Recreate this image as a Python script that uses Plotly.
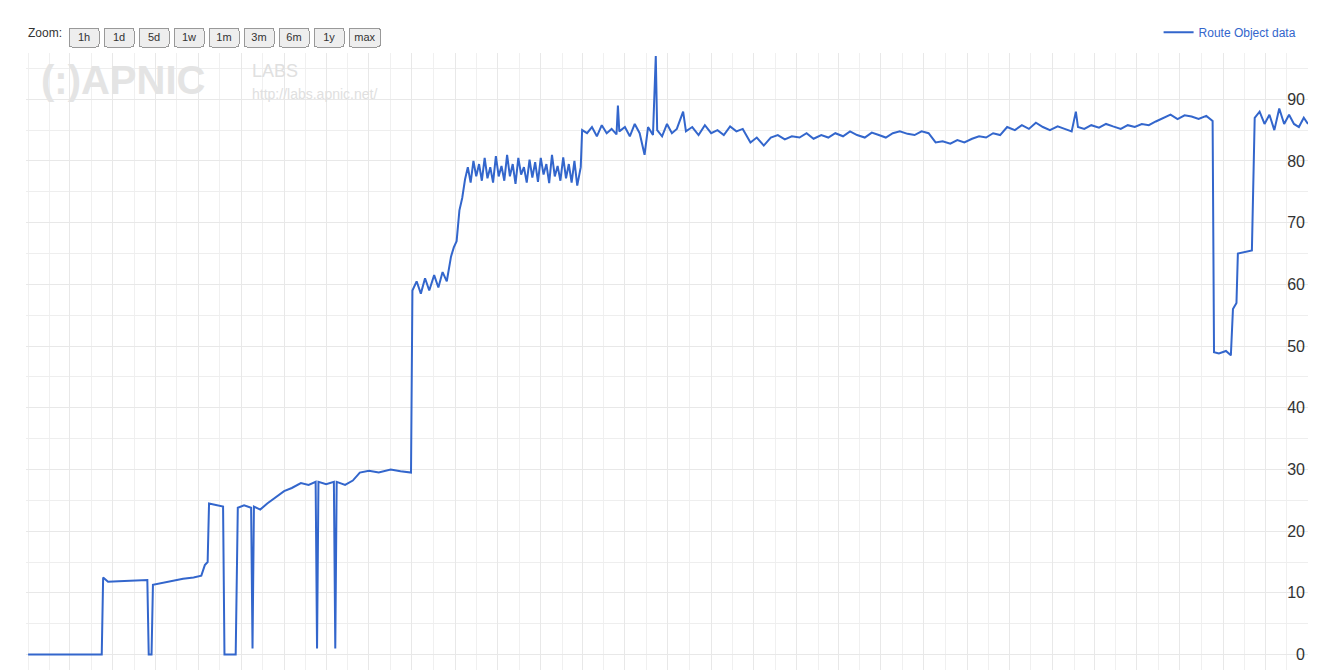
import plotly.graph_objects as go

# route object data (percent)
dates = [
    "2019-01-01", "2019-04-16", "2019-04-18", "2019-04-25", "2019-05-10", "2019-05-25", "2019-06-10", "2019-06-20",
    "2019-06-22", "2019-06-26", "2019-06-28", "2019-07-10", "2019-07-25", "2019-08-10", "2019-08-25", "2019-09-05",
    "2019-09-10", "2019-09-14", "2019-09-16", "2019-09-25", "2019-10-06", "2019-10-08", "2019-10-24", "2019-10-27",
    "2019-11-05", "2019-11-15", "2019-11-17", "2019-11-19", "2019-11-28", "2019-12-08", "2019-12-20", "2020-01-01",
    "2020-01-12", "2020-01-25", "2020-02-05", "2020-02-15", "2020-02-17", "2020-02-19", "2020-03-01", "2020-03-12",
    "2020-03-14", "2020-03-16", "2020-03-28", "2020-04-08", "2020-04-18", "2020-05-01", "2020-05-15", "2020-06-01",
    "2020-06-15", "2020-06-30", "2020-07-02", "2020-07-08", "2020-07-14", "2020-07-20", "2020-07-26", "2020-08-02",
    "2020-08-08", "2020-08-14", "2020-08-20", "2020-08-26", "2020-08-30", "2020-09-03", "2020-09-07", "2020-09-11",
    "2020-09-15", "2020-09-19", "2020-09-23", "2020-09-27", "2020-10-01", "2020-10-05", "2020-10-09", "2020-10-13",
    "2020-10-17", "2020-10-21", "2020-10-25", "2020-10-29", "2020-11-02", "2020-11-06", "2020-11-10", "2020-11-14",
    "2020-11-18", "2020-11-22", "2020-11-26", "2020-11-30", "2020-12-04", "2020-12-08", "2020-12-12", "2020-12-16",
    "2020-12-20", "2020-12-24", "2020-12-28", "2021-01-01", "2021-01-05", "2021-01-09", "2021-01-13", "2021-01-17",
    "2021-01-21", "2021-01-25", "2021-01-29", "2021-02-02", "2021-02-06", "2021-02-10", "2021-02-14", "2021-02-18",
    "2021-02-22", "2021-02-27", "2021-03-01", "2021-03-08", "2021-03-15", "2021-03-22", "2021-03-29", "2021-04-05",
    "2021-04-12", "2021-04-19", "2021-04-21", "2021-04-23", "2021-05-01", "2021-05-08", "2021-05-15", "2021-05-22",
    "2021-05-29", "2021-06-03", "2021-06-10", "2021-06-14", "2021-06-16", "2021-06-23", "2021-06-30", "2021-07-07",
    "2021-07-14", "2021-07-23", "2021-07-27", "2021-08-05", "2021-08-14", "2021-08-23", "2021-09-01", "2021-09-10",
    "2021-09-19", "2021-09-28", "2021-10-07", "2021-10-16", "2021-10-27", "2021-11-05", "2021-11-15", "2021-11-25",
    "2021-12-05", "2021-12-15", "2021-12-25", "2022-01-05", "2022-01-15", "2022-01-25", "2022-02-05", "2022-02-15",
    "2022-02-25", "2022-03-08", "2022-03-18", "2022-03-28", "2022-04-08", "2022-04-18", "2022-04-28", "2022-05-08",
    "2022-05-18", "2022-05-28", "2022-06-08", "2022-06-18", "2022-06-28", "2022-07-08", "2022-07-18", "2022-07-28",
    "2022-08-08", "2022-08-18", "2022-08-28", "2022-09-08", "2022-09-18", "2022-09-28", "2022-10-08", "2022-10-18",
    "2022-10-28", "2022-11-08", "2022-11-18", "2022-11-28", "2022-12-08", "2022-12-18", "2022-12-28", "2023-01-08",
    "2023-01-18", "2023-01-28", "2023-02-03", "2023-02-06", "2023-02-15", "2023-02-25", "2023-03-08", "2023-03-18",
    "2023-03-28", "2023-04-08", "2023-04-18", "2023-04-28", "2023-05-08", "2023-05-18", "2023-05-28", "2023-06-08",
    "2023-06-18", "2023-06-28", "2023-07-08", "2023-07-18", "2023-07-28", "2023-08-08", "2023-08-17", "2023-08-19",
    "2023-08-26", "2023-09-05", "2023-09-12", "2023-09-15", "2023-09-20", "2023-09-22", "2023-10-01", "2023-10-12",
    "2023-10-16", "2023-10-23", "2023-10-30", "2023-11-06", "2023-11-13", "2023-11-20", "2023-11-27", "2023-12-04",
    "2023-12-11", "2023-12-18", "2023-12-25", "2023-12-31",
]
values = [
    0, 0, 12.5, 11.8, 11.9, 12.0, 12.1, 12.1,
    0, 0, 11.3, 11.6, 12.0, 12.3, 12.5, 12.8,
    14.5, 15, 24.5, 24.3, 24.0, 0, 0, 23.8,
    24.2, 23.8, 1, 24, 23.5, 24.5, 25.5, 26.5,
    27, 27.8, 27.5, 28, 1, 28, 27.6, 28,
    1, 28, 27.5, 28.2, 29.5, 29.8, 29.5, 30,
    29.7, 29.5, 59, 60.5, 58.5, 61, 59, 61.5,
    59.5, 62, 60.5, 64.5, 66, 67, 72, 74,
    77, 79, 76.5, 80, 77.5, 79.5, 76.8, 80.5,
    77.2, 79, 76.5, 80.8, 77.5, 79.2, 76.8, 81,
    77.5, 79.5, 76.3, 80.5, 77.8, 79, 76.5, 80.2,
    77.3, 79.8, 76.6, 80.5, 77.8, 79.5, 76.4, 81,
    77.5, 79.2, 76.8, 80.6, 77.2, 79.5, 76.5, 80,
    76, 79, 85, 84.5, 85.5, 84, 85.8, 84.5,
    85.2, 84.3, 89, 84.8, 85.5, 84, 86, 84.5,
    81, 85.5, 84.2, 97, 85, 84, 86, 84.5,
    85.2, 88, 84.8, 85.5, 84.2, 85.8, 84.5, 85,
    84.2, 85.6, 84.8, 85.2, 83, 83.8, 82.5, 83.8,
    84.2, 83.5, 84, 83.8, 84.5, 83.6, 84.2, 83.8,
    84.5, 84, 84.8, 84.2, 83.8, 84.6, 84.2, 83.8,
    84.5, 84.8, 84.4, 84.2, 84.8, 84.5, 83, 83.2,
    82.8, 83.4, 83, 83.6, 84, 83.8, 84.5, 84.2,
    85.5, 85, 85.8, 85.2, 86.2, 85.5, 85, 85.6,
    85.2, 84.8, 88, 85.5, 85.2, 85.8, 85.4, 86,
    85.6, 85.2, 85.8, 85.5, 86, 85.8, 86.4, 87,
    87.5, 86.8, 87.4, 87.2, 86.8, 87.3, 86.5, 49,
    48.8, 49.2, 48.5, 56, 57, 65, 65.2, 65.5,
    87, 88, 86, 87.5, 85, 88.5, 86, 87.5,
    86, 85.5, 87, 86,
]

y_ticks = [0, 10, 20, 30, 40, 50, 60, 70, 80, 90]

# month tick every two months, year label on January
tick_vals, tick_text = [], []
for yr in range(2019, 2025):
    for m, lab in [(1, str(yr)), (3, "M"), (5, "M"), (7, "J"), (9, "S"), (11, "N")]:
        if (yr == 2019 and m == 1) or (yr == 2024 and m > 1):
            continue
        tick_vals.append(f"{yr}-{m:02d}-01")
        tick_text.append(lab)

blue = "#3366cc"

fig = go.Figure()
fig.add_trace(go.Scatter(
    x=dates, y=values, mode="lines", name="Route Object data",
    line=dict(color=blue, width=2),
))

fig.update_layout(
    width=1320, height=670,
    margin=dict(l=18, r=20, t=45, b=8, autoexpand=False),
    paper_bgcolor="white", plot_bgcolor="white",
    font=dict(family="Arial, Liberation Sans, sans-serif", size=13, color="#333"),
    showlegend=True,
    legend=dict(x=0.995, y=1.01, xanchor="right", yanchor="bottom", orientation="h",
                font=dict(size=12, color=blue), itemwidth=30),
    xaxis=dict(
        range=["2018-12-29", "2023-12-31"],
        tickvals=tick_vals, ticktext=tick_text, tickfont=dict(size=12, color="#333"),
        showgrid=True, gridcolor="#e8e8e8", zeroline=False, showline=True, linecolor="#999",
        minor=dict(dtick="M1", showgrid=True, gridcolor="#f0f0f0"),
        rangeslider=dict(visible=True, thickness=0.085, bgcolor="#eef2fb",
                         bordercolor="#bbb", borderwidth=1,
                         range=["2018-12-29", "2023-12-31"]),
        rangeselector=dict(
            x=0.033, y=1.012, xanchor="left", yanchor="bottom",
            bgcolor="#eeeeee", activecolor="#dddddd", bordercolor="#999", borderwidth=1,
            font=dict(size=11),
            buttons=[
                dict(count=1, label="1h", step="hour", stepmode="backward"),
                dict(count=1, label="1d", step="day", stepmode="backward"),
                dict(count=5, label="5d", step="day", stepmode="backward"),
                dict(count=7, label="1w", step="day", stepmode="backward"),
                dict(count=1, label="1m", step="month", stepmode="backward"),
                dict(count=3, label="3m", step="month", stepmode="backward"),
                dict(count=6, label="6m", step="month", stepmode="backward"),
                dict(count=1, label="1y", step="year", stepmode="backward"),
                dict(label="max", step="all"),
            ],
        ),
    ),
    yaxis=dict(
        range=[-2.5, 97.5], side="right", tickvals=y_ticks, ticklabelposition="inside",
        tickfont=dict(size=16, color="#333"),
        showgrid=True, gridcolor="#e8e8e8", zeroline=False,
        minor=dict(dtick=5, showgrid=True, gridcolor="#eeeeee"),
    ),
)

fig.add_annotation(xref="paper", yref="paper", x=0.0, y=1.018, xanchor="left", yanchor="bottom",
                   text="Zoom:", showarrow=False, font=dict(size=12, color="#333"))
fig.add_annotation(xref="paper", yref="paper", x=0.01, y=0.995, xanchor="left", yanchor="top",
                   text="<b>(:)APNIC</b>", showarrow=False, font=dict(size=40, color="#e4e4e4"))
fig.add_annotation(xref="paper", yref="paper", x=0.175, y=0.99, xanchor="left", yanchor="top",
                   text="LABS", showarrow=False, font=dict(size=18, color="#e0e0e0"))
fig.add_annotation(xref="paper", yref="paper", x=0.175, y=0.95, xanchor="left", yanchor="top",
                   text="http://labs.apnic.net/", showarrow=False, font=dict(size=14, color="#e0e0e0"))

fig.write_html("out.html")
